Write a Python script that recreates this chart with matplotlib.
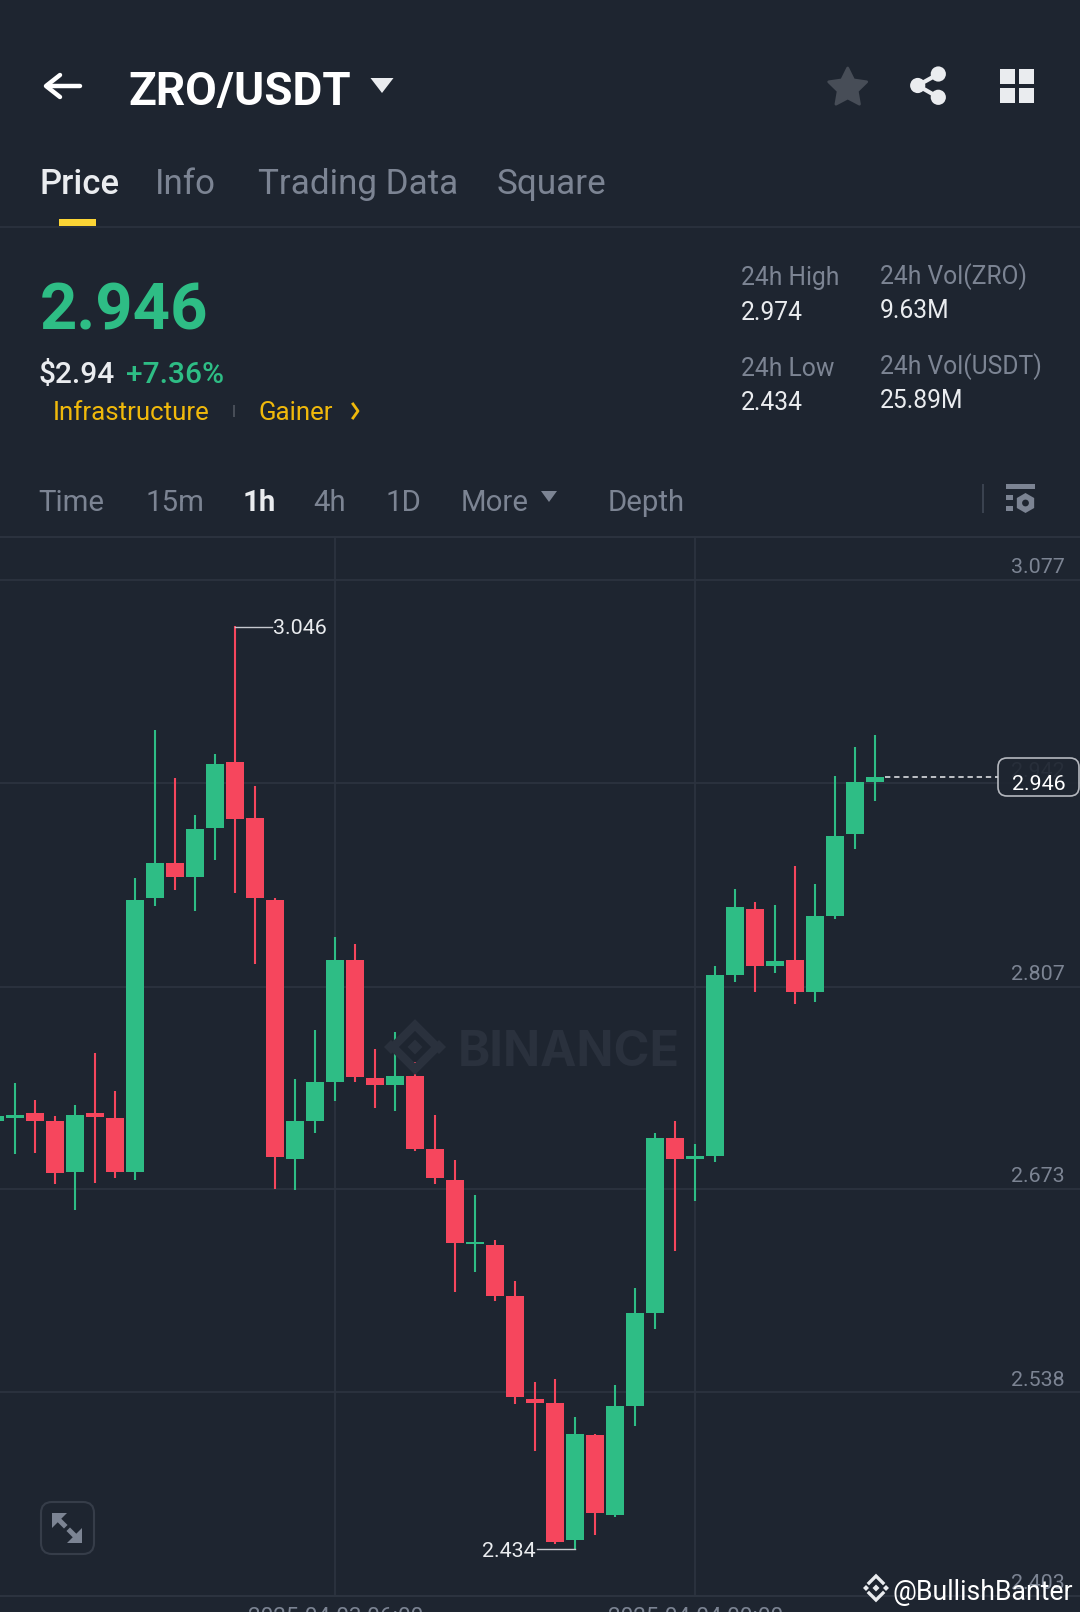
import numpy as np
import matplotlib
matplotlib.use("Agg")
import matplotlib.pyplot as plt
from matplotlib.patches import Circle, FancyBboxPatch, Polygon, Rectangle, RegularPolygon

plt.rcParams['font.family'] = ['Roboto', 'DejaVu Sans']

# hourly candles, first one is cut by the left edge
opens = [2.7182, 2.7201, 2.7231, 2.7182, 2.6841, 2.7231, 2.7201, 2.6841, 2.8663, 2.8893, 2.8802, 2.9123,
         2.9563, 2.9191, 2.8650, 2.6930, 2.7182, 2.7442, 2.8252, 2.7469, 2.7423, 2.7480, 2.6998, 2.6790,
         2.6365, 2.6360, 2.6020, 2.5339, 2.5310, 2.4399, 2.5100, 2.4569, 2.5288, 2.5907, 2.7070, 2.6931,
         2.6951, 2.8152, 2.8589, 2.8211, 2.8251, 2.8039, 2.8543, 2.9083, 2.9432]
highs = [2.7212, 2.7431, 2.7323, 2.7212, 2.7288, 2.7631, 2.7383, 2.8793, 2.9774, 2.9454, 2.9210, 2.9614,
         3.0462, 2.9403, 2.8660, 2.7461, 2.7783, 2.8401, 2.8352, 2.7661, 2.7773, 2.7572, 2.7223, 2.6920,
         2.6689, 2.6392, 2.6122, 2.5452, 2.5472, 2.5217, 2.5105, 2.5430, 2.6071, 2.7099, 2.7181, 2.7028,
         2.8209, 2.8720, 2.8632, 2.8612, 2.8875, 2.8753, 2.9472, 2.9662, 2.9742]
lows = [2.7182, 2.6960, 2.6971, 2.6762, 2.6592, 2.6770, 2.6800, 2.6792, 2.8604, 2.8712, 2.8572, 2.8913,
        2.8693, 2.8222, 2.6730, 2.6722, 2.7101, 2.7312, 2.7440, 2.7269, 2.7250, 2.6979, 2.6760, 2.6049,
        2.6181, 2.5989, 2.5306, 2.4990, 2.4377, 2.4340, 2.4437, 2.4556, 2.5158, 2.5799, 2.6321, 2.6650,
        2.6911, 2.8101, 2.8039, 2.8161, 2.7959, 2.7972, 2.8523, 2.8983, 2.9304]
closes = [2.7212, 2.7218, 2.7182, 2.6833, 2.7220, 2.7210, 2.6841, 2.8650, 2.8893, 2.8802, 2.9121, 2.9551,
          2.9183, 2.8663, 2.6942, 2.7182, 2.7440, 2.8252, 2.7472, 2.7423, 2.7480, 2.6993, 2.6800, 2.6370,
          2.6375, 2.6020, 2.5350, 2.5308, 2.4388, 2.5107, 2.4579, 2.5288, 2.5907, 2.7068, 2.6931, 2.6947,
          2.8150, 2.8601, 2.8211, 2.8242, 2.8039, 2.8543, 2.9072, 2.9432, 2.9461]
price_ticks = [3.077, 2.942, 2.807, 2.673, 2.538, 2.403]
time_ticks = [16, 34]
time_labels = ["2025-04-03 06:00", "2025-04-04 00:00"]
high_mark, low_mark, last_price = 3.046, 2.434, 2.946

BG = "#1E2530"
GRID = "#2C333F"
GREEN = "#2EBD85"
RED = "#F6465D"
WHITE = "#EAECEF"
GREY = "#7C8493"
YELLOW = "#F0B90B"

fig = plt.figure(figsize=(10.8, 16.12), dpi=100, facecolor=BG)

# chart area, px 537 to 1596 from the top
ax = fig.add_axes([0, 1 - 1596 / 1612, 1, (1596 - 537) / 1612], facecolor=BG)
idx = np.arange(len(opens)) - 1
opens, highs, lows, closes = map(np.array, (opens, highs, lows, closes))
cols = np.where(closes >= opens, GREEN, RED)

ax.vlines(idx, lows, highs, colors=cols, linewidth=1.5, zorder=3)
ax.bar(idx, np.abs(closes - opens), bottom=np.minimum(opens, closes), width=0.88, color=cols, linewidth=0, zorder=4)

ax.set_xlim(-0.76, 53.24)
ax.set_ylim(2.403, 3.1055)
ax.set_yticks(price_ticks)
ax.set_xticks(time_ticks)
ax.set_xticklabels(time_labels, color=GREY, fontsize=16.2)
ax.tick_params(axis='both', length=0)
ax.tick_params(axis='x', pad=8)
ax.tick_params(axis='y', labelleft=False)
ax.grid(True, color=GRID, linewidth=1.3, zorder=0)
for s in ax.spines.values():
    s.set_visible(False)
ax.spines['bottom'].set_visible(True)
ax.spines['bottom'].set_color(GRID)
ax.spines['bottom'].set_linewidth(1.5)

ytf = ax.get_yaxis_transform()
for t in price_ticks:
    ax.text(0.986, t + 0.0017, f"{t:.3f}", transform=ytf, ha='right', va='bottom', color=GREY, fontsize=15.4, zorder=2)

# high / low markers
ax.plot([11, 12.85], [high_mark, high_mark], color="#C5C8CE", linewidth=1, zorder=3)
ax.text(12.9, high_mark, f"{high_mark:.3f}", color=WHITE, fontsize=15.4, va='center_baseline', ha='left', zorder=5)
ax.plot([26.1, 28], [low_mark, low_mark], color="#C5C8CE", linewidth=1, zorder=3)
ax.text(26.0, low_mark, f"{low_mark:.3f}", color=WHITE, fontsize=15.4, va='center_baseline', ha='right', zorder=5)

# last price line, box is drawn on the overlay
ax.plot([43.5, 49.2], [last_price, last_price], color=WHITE, linewidth=1.1, dashes=(3.5, 2.5), zorder=3)

# overlay in pixels for the app header and icons
ov = fig.add_axes([0, 0, 1, 1])
ov.set_xlim(0, 1080)
ov.set_ylim(1612, 0)
ov.axis("off")


def txt(x, y, s, size=17, color=GREY, weight='normal', ha='left'):
    ov.text(x, y, s, fontsize=size, color=color, fontweight=weight, ha=ha, va='center_baseline')


def tri(cx, top, w, h, color):
    ov.add_patch(Polygon([[cx - w / 2, top], [cx + w / 2, top], [cx, top + h]], color=color, lw=0))


# top bar
ov.plot([47, 80], [86, 86], color="white", lw=3.2, solid_capstyle='round')
ov.plot([60, 46, 60], [75, 86, 97], color="white", lw=3.2, solid_capstyle='round', solid_joinstyle='round')
txt(128, 88, "ZRO/USDT", 33, "white", 'bold')
tri(382, 78, 23, 15, WHITE)
star = np.deg2rad(np.arange(10) * 36 - 90)
star_r = np.where(np.arange(10) % 2 == 0, 20, 10)
ov.add_patch(Polygon(np.c_[847.7 + star_r * np.cos(star), 88 + star_r * np.sin(star)], fc="#474D57", ec="#474D57", lw=2, joinstyle='round'))
for c in [(938.3, 74), (917.7, 85.5), (938.3, 97.3)]:
    ov.add_patch(Circle(c, 7.6, color=WHITE, lw=0))
ov.plot([938.3, 917.7, 938.3], [74, 85.5, 97.3], color=WHITE, lw=3)
for x0 in (1000, 1019):
    for y0 in (69, 87.7):
        ov.add_patch(Rectangle((x0, y0), 15.3, 15, color=WHITE, lw=0))

# tabs
txt(39, 181, "Price", 25, WHITE, 'medium')
txt(155, 181, "Info", 25.2)
txt(258, 181, "Trading Data", 25.2)
txt(497, 181, "Square", 25.2)
ov.add_patch(Rectangle((59, 218.5), 37, 7.5, color="#FCD535", lw=0))
ov.plot([0, 1080], [226.5, 226.5], color=GRID, lw=1.2)

# price block
txt(40, 305, "2.946", 47, GREEN, 'bold')
txt(39, 372, "$2.94", 21.5, WHITE, 'medium')
txt(126, 372, "+7.36%", 21.5, GREEN, 'medium')
txt(53, 411, "Infrastructure", 18.6, YELLOW)
ov.add_patch(Rectangle((233, 405), 2, 12, color="#474D57", lw=0))
txt(259, 411, "Gainer", 18.6, YELLOW)
ov.plot([353, 358, 353], [404, 411, 418], color=YELLOW, lw=2)

txt(741, 276, "24h High", 17.7)
txt(741, 311, "2.974", 17.7, WHITE)
txt(880, 274, "24h Vol(ZRO)", 17.7)
txt(880, 309, "9.63M", 17.7, WHITE)
txt(741, 366, "24h Low", 17.7)
txt(741, 401, "2.434", 17.7, WHITE)
txt(880, 364, "24h Vol(USDT)", 17.7)
txt(880, 399, "25.89M", 17.7, WHITE)

# interval row
txt(38, 500, "Time", 21.2)
txt(145, 500, "15m", 21.2)
txt(243, 500, "1h", 21.2, WHITE, 'bold')
txt(313, 500, "4h", 21.2)
txt(386, 500, "1D", 21.2)
txt(461, 500, "More", 21.2)
tri(549, 491, 16, 11, GREY)
txt(608, 500, "Depth", 21.2)
ov.add_patch(Rectangle((982, 484), 2, 29, color="#3A424F", lw=0))
ov.add_patch(Rectangle((1005.5, 484), 29, 5, color=GREY, lw=0))
ov.add_patch(Rectangle((1005.5, 495), 7.5, 5, color=GREY, lw=0))
ov.add_patch(Rectangle((1005.5, 506), 7.5, 5, color=GREY, lw=0))
ov.add_patch(RegularPolygon((1025.5, 503), 6, radius=10, color=GREY, lw=0))
ov.add_patch(Circle((1025.5, 503), 3.4, color=BG, lw=0))
ov.plot([0, 1080], [537, 537], color=GRID, lw=1.4)

# watermark
WM = "#2A313D"
for (cx, cy, r) in [(415, 1047, 7.5), (391, 1047, 7), (439, 1047, 7)]:
    ov.add_patch(Polygon([[cx - r, cy], [cx, cy - r], [cx + r, cy], [cx, cy + r]], color=WM, lw=0, zorder=0.5))
ov.plot([397, 415, 433], [1043, 1025, 1043], color=WM, lw=6, zorder=0.5, solid_joinstyle='miter')
ov.plot([397, 415, 433], [1051, 1069, 1051], color=WM, lw=6, zorder=0.5, solid_joinstyle='miter')
ax.text(458, 1048, "BINANCE", transform=ov.transData, fontsize=35, fontfamily='Inter', fontweight='bold', color=WM, va='center_baseline', ha='left', zorder=1)

# last price box
ov.add_patch(FancyBboxPatch((1004, 764), 69, 26, boxstyle="round,pad=6,rounding_size=9", fc=BG, ec="#C5C8CE", lw=1.2, alpha=0.9))
txt(1038.5, 782, "2.946", 15.4, "white", ha='center')

# expand button
ov.add_patch(FancyBboxPatch((50, 1511), 35, 34, boxstyle="round,pad=9,rounding_size=11", fc="none", ec="#363D49", lw=1.5))
ov.add_patch(Polygon([[52, 1513], [67, 1513], [52, 1528]], color=GREY, lw=0))
ov.add_patch(Polygon([[82, 1543], [82, 1528], [67, 1543]], color=GREY, lw=0))
ov.plot([57, 64], [1518, 1525], color=GREY, lw=3.6)
ov.plot([77, 70], [1538, 1531], color=GREY, lw=3.6)

# credit in the corner
for (cx, cy, r) in [(876, 1588, 3.5), (866, 1588, 3), (886, 1588, 3)]:
    ov.add_patch(Polygon([[cx - r, cy], [cx, cy - r], [cx + r, cy], [cx, cy + r]], color=WHITE, lw=0))
ov.plot([869, 876, 883], [1583, 1576, 1583], color=WHITE, lw=2.4, solid_joinstyle='miter')
ov.plot([869, 876, 883], [1593, 1600, 1593], color=WHITE, lw=2.4, solid_joinstyle='miter')
txt(893, 1589, "@BullishBanter", 19.2, "white")

fig.savefig("out.png", dpi=100, facecolor=BG)
